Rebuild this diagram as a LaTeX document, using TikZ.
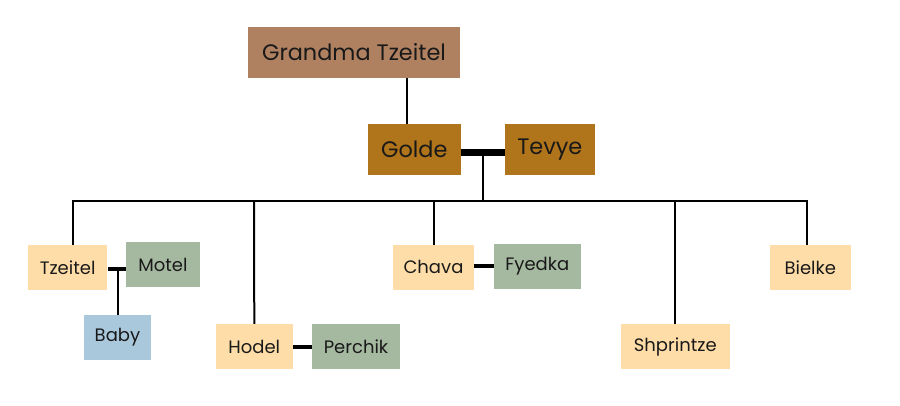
\documentclass[tikz,border=0pt]{standalone}
\usepackage{fontspec}
\setmainfont{Poppins}
\definecolor{gmcol}{RGB}{176,129,96}
\definecolor{parcol}{RGB}{176,116,26}
\definecolor{kidcol}{RGB}{255,221,168}
\definecolor{spcol}{RGB}{165,184,160}
\definecolor{babycol}{RGB}{170,200,220}
\definecolor{txtcol}{RGB}{25,25,25}
\begin{document}
\begin{tikzpicture}[x=1pt,y=-1pt,
  box/.style={rectangle,inner sep=0pt,text=txtcol,anchor=center},
  big/.style={box,font=\fontsize{22.4}{26}\selectfont},
  small/.style={box,font=\fontsize{18}{21}\selectfont},
  link/.style={line width=2pt,black},
  wed/.style={line width=4pt,black},
  bigwed/.style={line width=7pt,black}]
\useasboundingbox (0,0) rectangle (900,406);
% top generation
\node[big,fill=gmcol,minimum width=212,minimum height=51] (gm) at (354,52.5) {Grandma Tzeitel};
\node[big,fill=parcol,minimum width=92.5,minimum height=51] (golde) at (414.3,149.6) {Golde};
\node[big,fill=parcol,minimum width=90,minimum height=51] (tevye) at (549.8,149.6) {Tevye};
% children
\node[small,fill=kidcol,minimum width=79.5,minimum height=45] (tz) at (67.6,267.3) {Tzeitel};
\node[small,fill=spcol,minimum width=74,minimum height=45] (motel) at (163,264.5) {Motel};
\node[small,fill=babycol,minimum width=67,minimum height=45] (baby) at (117.5,337.5) {Baby};
\node[small,fill=kidcol,minimum width=76.7,minimum height=45] (hodel) at (254.3,346.5) {Hodel};
\node[small,fill=spcol,minimum width=88,minimum height=45] (perchik) at (356,346.5) {Perchik};
\node[small,fill=kidcol,minimum width=81,minimum height=45] (chava) at (433.5,267.3) {Chava};
\node[small,fill=spcol,minimum width=86.7,minimum height=45] (fyedka) at (537.3,266.5) {Fyedka};
\node[small,fill=kidcol,minimum width=108.7,minimum height=45] (shpr) at (675.3,346.5) {Shprintze};
\node[small,fill=kidcol,minimum width=80.7,minimum height=45] (bielke) at (810.3,267.5) {Bielke};
% connector points
\coordinate (wm) at (482.7,152.3);
\coordinate (bar) at (482.7,201);
\coordinate (tzm) at (117.7,268.7);
% lines
\draw[link] (gm.south -| 407.3,0) -- (golde.north -| 407.3,0);
\draw[bigwed] (golde.east |- wm) -- (tevye.west |- wm);
\draw[link] (wm) -- (bar);
\draw[link] (73.3,202) |- (806.7,201) -- (806.7,202);
\draw[link] (73.3,201) -- (tz.north -| 73.3,0);
\draw[link] (254,201) -- (hodel.north);
\draw[link] (434.3,201) -- (chava.north -| 434.3,0);
\draw[link] (674.7,201) -- (shpr.north -| 674.7,0);
\draw[link] (806.7,201) -- (bielke.north -| 806.7,0);
\draw[wed] (tz.east |- tzm) -- (motel.west |- tzm);
\draw[link] (tzm) -- (baby.north -| tzm);
\draw[wed] (hodel.east) -- (perchik.west);
\draw[wed] (chava.east |- fyedka.west) -- (fyedka.west);
\end{tikzpicture}
\end{document}
